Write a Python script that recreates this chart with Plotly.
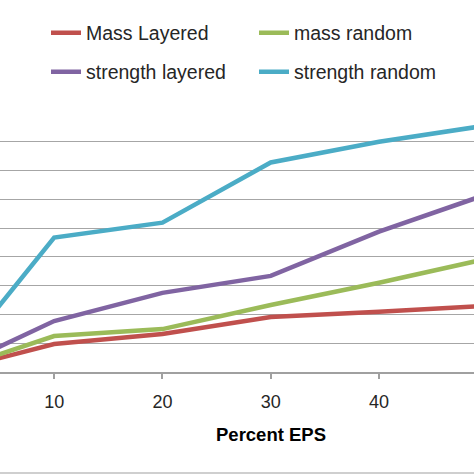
import plotly.graph_objects as go

percent_eps = [0, 10, 20, 30, 40, 50]
mass_layered = [0, 0.97, 1.32, 1.91, 2.09, 2.30]
mass_random = [0, 1.25, 1.49, 2.33, 3.10, 3.94]
strength_layered = [0, 1.77, 2.75, 3.34, 4.88, 6.18]
strength_random = [0, 4.67, 5.19, 7.28, 8.00, 8.57]

series = [
    ("Mass Layered", mass_layered, "#C0504D", "legend"),
    ("mass random", mass_random, "#9BBB59", "legend"),
    ("strength layered", strength_layered, "#8064A2", "legend2"),
    ("strength random", strength_random, "#4BACC6", "legend2"),
]

FONT = "Liberation Sans"
TXT = "#262626"

fig = go.Figure()
for name, vals, color, leg in series:
    fig.add_trace(go.Scatter(
        x=percent_eps, y=vals, mode="lines", name=name,
        line=dict(color=color, width=4.5), legend=leg,
    ))

H = 259.0
def py2paper(py):
    return (372 - py) / H

leg_common = dict(orientation="h", x=46/474, xanchor="left", yanchor="middle",
                  entrywidth=163, entrywidthmode="pixels",
                  font=dict(size=19.5, color=TXT), bgcolor="rgba(0,0,0,0)")

fig.update_layout(
    width=474, height=474,
    margin=dict(l=0, r=0, t=113, b=102),
    paper_bgcolor="white", plot_bgcolor="white",
    font=dict(family=FONT, size=18, color=TXT),
    showlegend=True,
    legend=dict(y=py2paper(33), **leg_common),
    legend2=dict(y=py2paper(72), **leg_common),
    xaxis=dict(range=[5.0, 48.77], tickvals=[10, 20, 30, 40], showgrid=False,
               showline=True, linecolor="#A0A0A0", linewidth=1.5,
               ticks="outside", ticklen=5, tickcolor="#A0A0A0", tickwidth=1.5,
               ticklabelstandoff=8,
               tickfont=dict(size=18, color=TXT), zeroline=False),
    yaxis=dict(range=[0, 9], dtick=1, showgrid=True, gridcolor="#A6A6A6", gridwidth=1.3,
               showticklabels=False, zeroline=False, showline=False),
    annotations=[dict(text="<b>Percent EPS</b>", x=30, xref="x", y=py2paper(434), yref="paper",
                      showarrow=False, font=dict(size=18.5, color="#000000", family=FONT),
                      xanchor="center", yanchor="middle")],
    shapes=[dict(type="line", xref="paper", yref="paper", x0=0, x1=1,
                 y0=py2paper(473), y1=py2paper(473), line=dict(color="#BFBFBF", width=1.5))],
)

fig.write_html("out.html")
